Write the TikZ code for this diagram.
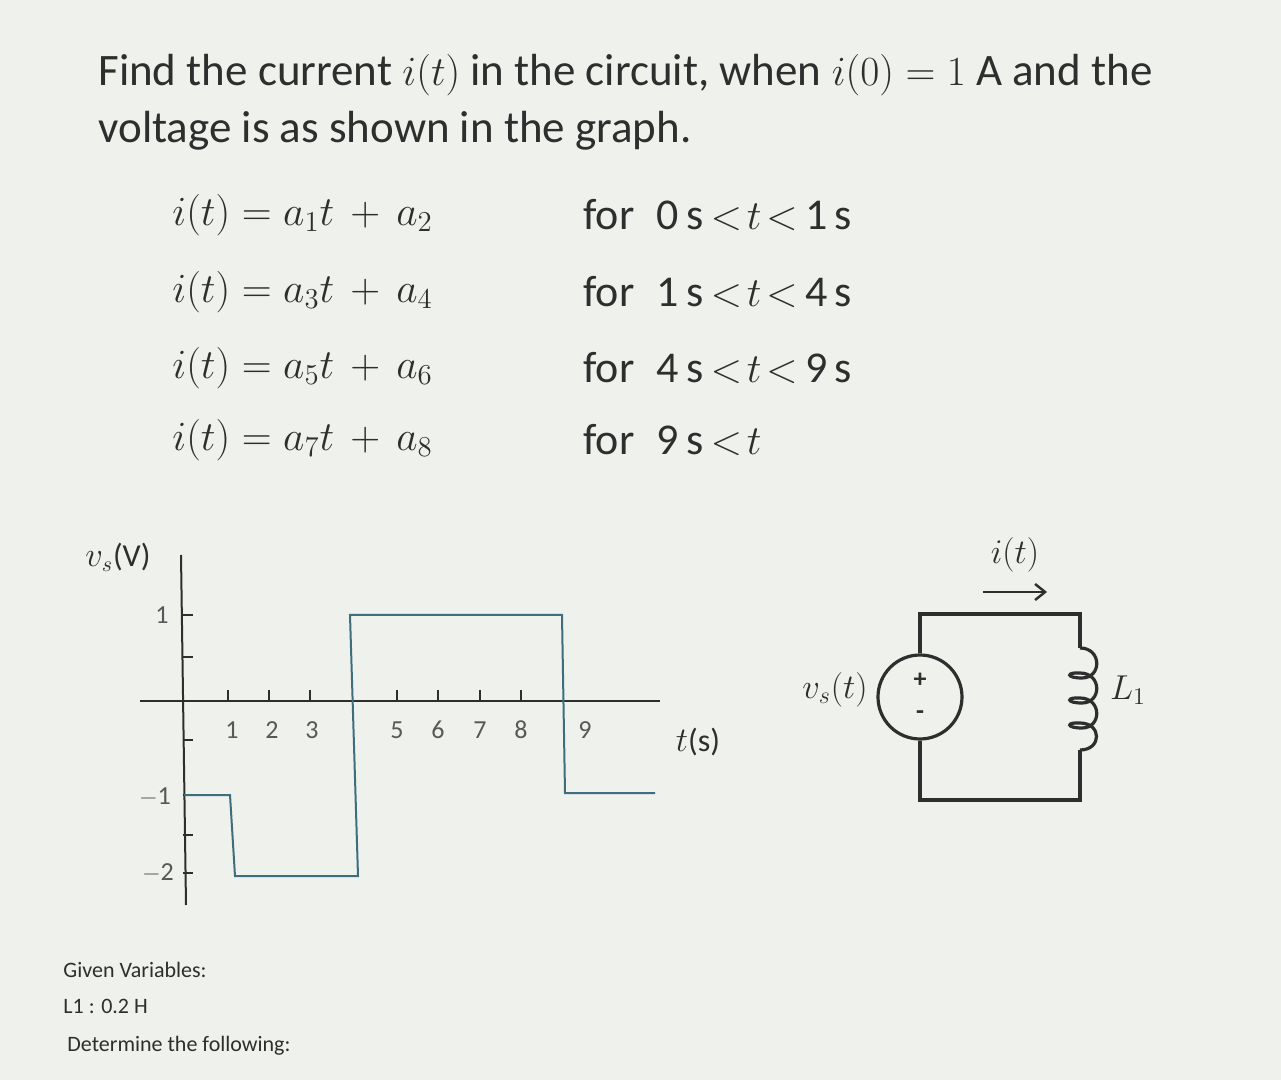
\documentclass[tikz,border=0pt]{standalone}
\usepackage{fontspec}
\setmainfont{Carlito}
\usetikzlibrary{arrows.meta}
\definecolor{bg}{HTML}{EEF1EC}
\definecolor{ink}{HTML}{2E2E2E}
\definecolor{wave}{HTML}{3E6E7E}
\begin{document}
\begin{tikzpicture}[x=0.5pt,y=-0.5pt,
  txt/.style={anchor=west,inner sep=0pt,text=ink,font=\fontsize{22.5}{26}\selectfont},
  eq/.style={anchor=west,inner sep=0pt,text=ink,font=\fontsize{22}{26}\selectfont},
  small/.style={anchor=west,inner sep=0pt,text=ink,font=\fontsize{11}{13}\selectfont},
  lab/.style={inner sep=0pt,text=ink!80,font=\fontsize{13}{15}\selectfont},
  wire/.style={draw=ink,line width=1.6pt}]
\fill[bg] (0,0) rectangle (1281,1080);
\useasboundingbox (0,0) rectangle (1281,1080);
\node[txt] (t1) at (98,75) {Find the current $i(t)$ in the circuit, when $i(0)=1$ A and the};
\node[txt] (t2) at (98,131) {voltage is as shown in the graph.};
\foreach \y/\a/\b/\r [count=\k] in {215/1/2/{0\,s\,$<\!t\!<$\,1\,s},292/3/4/{1\,s\,$<\!t\!<$\,4\,s},368/5/6/{4\,s\,$<\!t\!<$\,9\,s},440/7/8/{9\,s\,$<\!t$}}{
  \node[eq] (e\k) at (172,\y) {$i(t)=a_{\a}t\,+\,a_{\b}$};
  \node[eq] (f\k) at (583,\y) {for\enspace \r};
}
% graph
\draw[ink,line width=1pt] (181,555) -- (186,905);
\draw[ink,line width=1pt] (140,701) -- (660,701);
\foreach \x in {228,269,310,397,438,480,521} \draw[ink,line width=0.8pt] (\x,701) -- (\x,690);
\foreach \y in {615,657,740,795,835,873} \draw[ink,line width=0.8pt] (183,\y) -- (193,\y);
\foreach \x/\l in {232/1,272/2,312/3,397/5,438/6,480/7,521/8,585/9} \node[lab] (xl\l) at (\x,730) {\l};
\node[lab] (y1) at (162,615) {1};
\node[lab] (ym1) at (155,797) {$-$1};
\node[lab] (ym2) at (158,873) {$-$2};
\node[inner sep=0pt,text=ink,font=\fontsize{16}{18}\selectfont] (vl) at (118,557) {$v_s$(V)};
\node[inner sep=0pt,text=ink,font=\fontsize{16}{18}\selectfont] (tl) at (698,742) {$t$(s)};
\draw[wave,line width=1pt] (184,795) -- (230,795) -- (235,876) -- (358,876) -- (350,615) -- (562,615) -- (565,793) -- (655,793);
% circuit
\node[circle,draw=ink,line width=1.6pt,minimum size=42pt,inner sep=0pt] (src) at (920,697) {};
\node[inner sep=0pt,text=ink,font=\bfseries\fontsize{13}{13}\selectfont] (plus) at (920,680) {+};
\node[inner sep=0pt,text=ink,font=\bfseries\fontsize{13}{13}\selectfont] (minus) at (920,715) {-};
\coordinate (tl1) at (920,614);
\coordinate (tr1) at (1080,614);
\coordinate (ia) at (1080,648);
\coordinate (ib) at (1080,750);
\coordinate (br1) at (1080,800);
\coordinate (bl1) at (920,800);
\draw[wire] (src.north) -- (tl1) -- (tr1) -- (ia);
\draw[wire] (ib) -- (br1) -- (bl1) -- (src.south);
\draw[wire] (ia) .. controls (1102,648) and (1102,678) .. (1082,678)
  .. controls (1066,678) and (1066,672) .. (1080,673)
  .. controls (1102,673) and (1102,703) .. (1082,703)
  .. controls (1066,703) and (1066,697) .. (1080,698)
  .. controls (1102,698) and (1102,728) .. (1082,728)
  .. controls (1066,728) and (1066,722) .. (1080,723)
  .. controls (1102,723) and (1102,750) .. (ib);
\node[inner sep=0pt,text=ink,font=\fontsize{18}{20}\selectfont] (vs) at (835,690) {$v_s(t)$};
\node[inner sep=0pt,text=ink,font=\fontsize{18}{20}\selectfont] (L1) at (1128,690) {$L_1$};
\node[inner sep=0pt,text=ink,font=\fontsize{18}{20}\selectfont] (it) at (1015,555) {$i(t)$};
\coordinate (a1) at (983,592);
\coordinate (a2) at (1047,592);
\draw[ink,line width=1.2pt,-{Straight Barb[length=5pt,width=8pt]}] (a1) -- (a2);
\node[small] (g1) at (63,970) {Given Variables:};
\node[small] (g2) at (63,1006) {L1 : 0.2 H};
\node[small] (g3) at (67,1046) {Determine the following:};
\end{tikzpicture}
\end{document}
